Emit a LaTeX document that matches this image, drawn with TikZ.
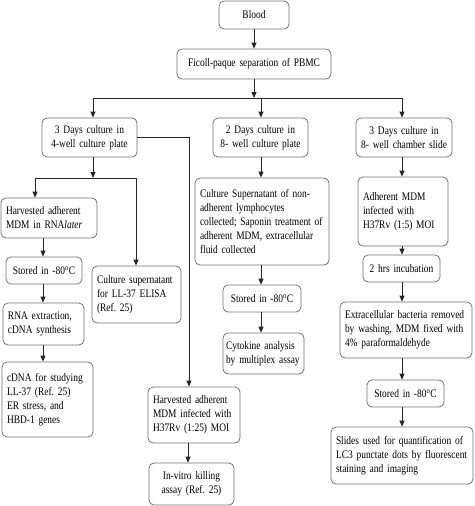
\documentclass[tikz,border=0pt]{standalone}
\usepackage{fontspec}
\setmainfont{Liberation Serif}[FakeStretch=0.82,WordSpace=0.8]
\usetikzlibrary{arrows.meta}
\tikzset{
  box/.style={draw=black!55, line width=0.8pt, rounded corners=5pt, inner xsep=5pt, inner ysep=0pt,
    font=\fontsize{11.5}{14}\selectfont\frenchspacing, align=left, fill=white},
  cbox/.style={box, align=center},
  arr/.style={draw=black!85, line width=0.8pt, -{Triangle[width=5pt,length=6pt]}},
  ln/.style={draw=black!85, line width=0.8pt}
}
\begin{document}
\frenchspacing
\begin{tikzpicture}[x=1pt,y=-1pt]
\useasboundingbox (0,0) rectangle (474,506);
% top
\node[cbox, text width=60pt, minimum height=28pt] (blood) at (254,15) {Blood};
\node[cbox, text width=144pt, minimum height=30pt] (ficoll) at (254,64) {Ficoll-paque separation of PBMC};
% level 2
\node[cbox, text width=85pt, minimum height=39pt] (L3) at (89.5,137.5) {3 Days culture in\\4-well culture plate};
\node[cbox, text width=85pt, minimum height=39pt] (M2) at (260.5,137.5) {2 Days culture in\\8- well culture plate};
\node[cbox, text width=86pt, minimum height=39pt] (R3) at (404,137.5) {3 Days culture in\\8- well chamber slide};
% left column
\node[box, text width=86pt, minimum height=40pt] (rnal) at (49,218) {Harvested adherent\\MDM in RNA\textit{later}};
\node[cbox, text width=66pt, minimum height=27pt] (stL) at (44,270.5) {Stored in -80\textsuperscript{o}C};
\node[box, text width=79pt, minimum height=57pt] (cs) at (136.5,294.5) {Culture supernatant\\for LL-37 ELISA\\(Ref. 25)};
\node[box, text width=71pt, minimum height=42pt] (rnaex) at (43.5,324) {RNA extraction,\\cDNA synthesis};
\node[box, text width=81pt, minimum height=75pt] (cdna) at (47.5,399.5) {cDNA for studying\\LL-37 (Ref. 25)\\ER stress, and\\HBD-1 genes};
\node[box, text width=82pt, minimum height=56pt] (hinf) at (194,415) {Harvested adherent\\MDM infected with\\H37Rv (1:25) MOI};
\node[cbox, text width=75pt, minimum height=42pt] (kill) at (191.5,484) {In-vitro killing\\assay (Ref. 25)};
% middle column
\node[box, text width=124pt, minimum height=87pt] (csm) at (262,221.5) {Culture Supernatant of non-\\adherent lymphocytes\\collected; Saponin treatment of\\adherent MDM, extracellular\\fluid collected};
\node[cbox, text width=68pt, minimum height=27pt] (stM) at (262,298.5) {Stored in -80\textsuperscript{o}C};
\node[box, text width=75pt, inner xsep=3pt, minimum height=41pt] (cyto) at (263.5,353.5) {Cytokine analysis\\by multiplex assay};
% right column
\node[box, text width=80pt, minimum height=69pt] (adh) at (403,211.5) {Adherent MDM\\infected with\\H37Rv (1:5) MOI};
\node[cbox, text width=67pt, minimum height=27pt] (inc) at (401.5,268.5) {2 hrs incubation};
\node[box, text width=122pt, minimum height=56pt] (extra) at (406,330) {Extracellular bacteria removed\\by washing, MDM fixed with\\4\% paraformaldehyde};
\node[cbox, text width=67pt, minimum height=27pt] (stR) at (405.5,393.5) {Stored in -80\textsuperscript{o}C};
\node[box, text width=132pt, minimum height=57pt] (slides) at (402,455.5) {Slides used for quantification of\\LC3 punctate dots by fluorescent\\staining and imaging};
% coordinates
\coordinate (bus) at (254,98);
\coordinate (busL) at (93,98);
\coordinate (busM) at (261,98);
\coordinate (busR) at (402,98);
\coordinate (lbus) at (93,178);
\coordinate (lbusL) at (35,178);
\coordinate (lbusR) at (136,178);
\coordinate (side) at (189,137);
% connectors
\draw[arr] (blood) -- (ficoll);
\draw[arr] (ficoll.south) -- (bus);
\draw[ln] (busL) -- (busR);
\draw[arr] (busL) -- (busL |- L3.north);
\draw[arr] (busM) -- (busM |- M2.north);
\draw[arr] (busR) -- (busR |- R3.north);
% left
\draw[arr] (busL |- L3.south) -- (lbus);
\draw[ln] (lbusL) -- (lbusR);
\draw[arr] (lbusL) -- (lbusL |- rnal.north);
\draw[arr] (lbusR) -- (lbusR |- cs.north);
\draw[arr] (43,0 |- rnal.south) -- (43,0 |- stL.north);
\draw[arr] (43,0 |- stL.south) -- (43,0 |- rnaex.north);
\draw[arr] (43,0 |- rnaex.south) -- (43,0 |- cdna.north);
\draw[ln] (L3.east |- side) -- (side);
\draw[arr] (side) -- (side |- hinf.north);
\draw[arr] (188,0 |- hinf.south) -- (188,0 |- kill.north);
% middle
\draw[arr] (busM |- M2.south) -- (busM |- csm.north);
\draw[arr] (busM |- csm.south) -- (busM |- stM.north);
\draw[arr] (busM |- stM.south) -- (busM |- cyto.north);
% right
\draw[arr] (busR |- R3.south) -- (busR |- adh.north);
\draw[arr] (busR |- adh.south) -- (busR |- inc.north);
\draw[arr] (busR |- inc.south) -- (busR |- extra.north);
\draw[arr] (busR |- extra.south) -- (busR |- stR.north);
\draw[arr] (busR |- stR.south) -- (busR |- slides.north);
\end{tikzpicture}
\end{document}
